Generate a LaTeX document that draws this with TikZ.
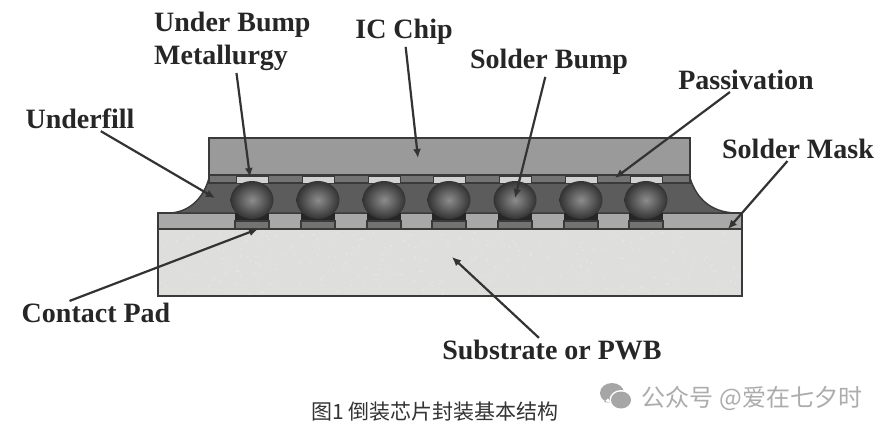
\documentclass[tikz,border=0pt]{standalone}
\usepackage{fontspec}
\setmainfont{Liberation Serif}
\newfontfamily\cjk{Noto Sans CJK SC}
\usetikzlibrary{arrows.meta, shadings}
\definecolor{edgegray}{HTML}{3A3A3A}
\definecolor{chipgray}{HTML}{9A9A9A}
\definecolor{fillgray}{HTML}{5C5C5C}
\definecolor{maskgray}{HTML}{A8A8A8}
\definecolor{subgray}{HTML}{DEDEDC}
\tikzset{
layer/.style={draw=edgegray, line width=1.4pt},
label/.style={font=\fontsize{28}{33}\selectfont\bfseries, text=black!85, align=left, inner sep=2pt},
line/.style={draw=black!80, line width=2.2pt, -{Latex[length=9pt,width=8pt]}}
}
\begin{document}
\begin{tikzpicture}[x=1pt,y=-1pt]
 \path[use as bounding box, fill=white] (0,0) rectangle (891,433);

 % substrate and solder mask
 \draw[layer, fill=subgray] (158,229) rectangle (742,296);
 \pgfmathsetseed{7}
 \foreach \i in {1,...,260}
 {\fill[white!80!gray] (160+580*rnd,232+62*rnd) circle (1.1pt);}
 \draw[layer, fill=maskgray] (158,213) rectangle (742,229);

 % underfill with fillets
 \draw[layer, fill=fillgray] (209,178) .. controls (203,200) and (188,212) .. (170,213)
  -- (735,213) .. controls (712,212) and (697,200) .. (690,178) -- cycle;

 % chip and passivation
 \draw[layer, fill=chipgray] (209,138) rectangle (690,175);
 \draw[layer, fill=gray!90!black] (209,175) rectangle (690,183);

 % bumps
 \foreach \X [count=\n] in {252,318,384,449,515,581,646}
 {\fill[fill=black!85] (\X-17,213) rectangle (\X+17,221);
  \draw[layer, fill=gray!90!black] (\X-17,221) rectangle (\X+17,229);
  \draw[edgegray, line width=1pt, fill=gray!35] (\X-16,176) rectangle (\X+16,183);
  \shade[inner color=gray!90, outer color=black!80] (\X,200) ellipse (21.5pt and 19pt);
  \coordinate (b\n) at (\X,198);}

 % labels
 \node[label, anchor=north west] (ubm) at (152,10) {Under Bump\\Metallurgy};
 \node[label] (chip) at (404,32) {IC Chip};
 \node[label] (bump) at (549,62) {Solder Bump};
 \node[label] (pass) at (746,80) {Passivation};
 \node[label] (fill) at (80,119) {Underfill};
 \node[label] (mask) at (798,149) {Solder Mask};
 \node[label] (pad) at (96,313) {Contact Pad};
 \node[label] (sub) at (552,350) {Substrate or PWB};

 % arrow tips
 \coordinate (ubmtip) at (250,177);
 \coordinate (chiptip) at (418,158);
 \coordinate (passtip) at (615,178);
 \coordinate (filltip) at (215,198);
 \coordinate (masktip) at (728,229);
 \coordinate (padtip) at (258,229);
 \coordinate (subtip) at (452,257);
 \draw[line] (ubm) -- (ubmtip);
 \draw[line] (chip) -- (chiptip);
 \draw[line] (bump) -- (b5);
 \draw[line] (pass) -- (passtip);
 \draw[line] (fill) -- (filltip);
 \draw[line] (mask) -- (masktip);
 \draw[line] (pad.north west) ++(50,0) coordinate (padstart) -- (padtip);
 \draw[line] (sub) -- (subtip);

 % caption and watermark
 \node[font=\cjk\fontsize{21}{23}\selectfont, text=black!80] (cap) at (435,412) {图1 倒装芯片封装基本结构};
 \fill[gray!70] (612,393) ellipse (12pt and 10pt) (604,402) -- (608,398) -- (611,403) -- cycle;
 \fill[white] (621,400) ellipse (11.5pt and 10pt);
 \fill[gray!70] (621,400) ellipse (10pt and 8.5pt);
 \node[font=\cjk\fontsize{24}{26}\selectfont, text=gray!65] (mark) at (752,398) {公众号 @爱在七夕时};
\end{tikzpicture}
\end{document}
